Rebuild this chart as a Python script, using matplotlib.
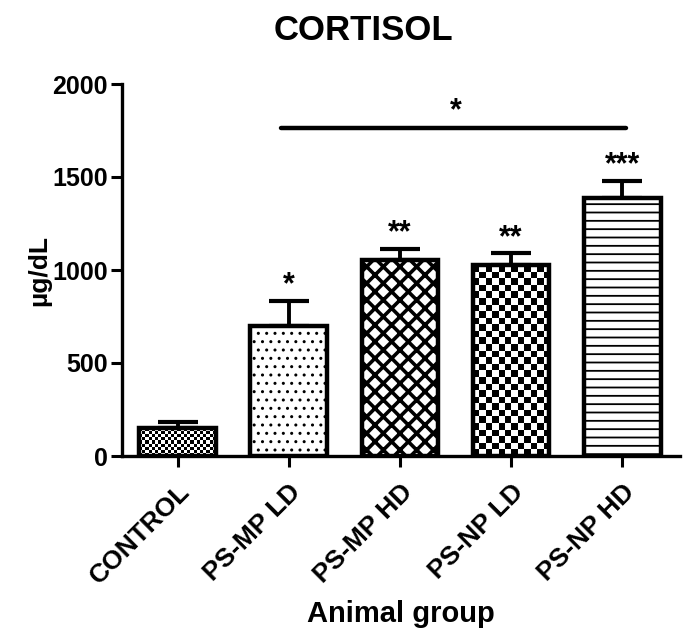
import numpy as np
import matplotlib
matplotlib.use("Agg")
import matplotlib.pyplot as plt

plt.rcParams['font.family'] = ['Liberation Sans', 'DejaVu Sans']
plt.rcParams['hatch.color'] = 'black'

categories = ["CONTROL", "PS-MP LD", "PS-MP HD", "PS-NP LD", "PS-NP HD"]
means = [150, 700, 1055, 1025, 1385]
sems = [35, 135, 60, 65, 95]
stars = ["", "*", "**", "**", "***"]
yticks = [0, 500, 1000, 1500, 2000]
sig_pair = (1, 4)
sig_value = 1765
sig_label = "*"

W, H = 685, 641
fig = plt.figure(figsize=(W / 100, H / 100), dpi=100)
ax = fig.add_axes([122 / W, 1 - 456 / H, (680 - 122) / W, (456 - 84) / H])

x = np.arange(len(categories))
width = 0.69
hatches = [None, '..', 'xx', None, '--']
hatch_lw = [1.0, 1.0, 2.6, 1.0, 1.3]
bars = ax.bar(x, means, width=width, color='white', edgecolor='black',
              linewidth=3.2, zorder=3)
for b, h, lw in zip(bars, hatches, hatch_lw):
    if h:
        b.set_hatch(h)
        if hasattr(b, 'set_hatch_linewidth'):
            b.set_hatch_linewidth(lw)
        else:
            b._hatch_linewidth = lw

ax.set_xlim(-0.5, 4.52)
ax.set_ylim(0, 2000)

# checkerboard fills
def checker(bar, cell_px, invert=False):
    x0, y0 = bar.get_x(), bar.get_y()
    x1, y1 = x0 + bar.get_width(), y0 + bar.get_height()
    p0 = ax.transData.transform((x0, y0))
    p1 = ax.transData.transform((x1, y1))
    nx = max(1, int(round((p1[0] - p0[0]) / cell_px)))
    ny = max(1, int(round((p1[1] - p0[1]) / cell_px)))
    img = (np.add.outer(np.arange(ny), np.arange(nx)) % 2).astype(float)
    if invert:
        img = 1 - img
    im = ax.imshow(img, extent=[x0, x1, y0, y1], aspect='auto', cmap='gray',
                   interpolation='nearest', zorder=2.5, vmin=0, vmax=1)
    im.set_clip_path(bar)

checker(bars[0], 3.2)
checker(bars[3], 6.5)
for b in (bars[0], bars[3]):
    b.set_facecolor('none')

ax.errorbar(x, means, yerr=[np.zeros(len(sems)), sems], fmt='none',
            ecolor='black', elinewidth=2.8, capsize=14.5, capthick=3.0, zorder=2)

for xi, m, s, st in zip(x, means, sems, stars):
    if st:
        ax.text(xi, m + s + 0, st, ha='center', va='bottom', fontsize=22,
                fontweight='bold')

ax.plot([sig_pair[0] - 0.07, sig_pair[1] + 0.03], [sig_value, sig_value],
        color='black', lw=3.2, solid_capstyle='round', clip_on=False)
ax.text((sig_pair[0] + sig_pair[1]) / 2, sig_value + 10, sig_label,
        ha='center', va='bottom', fontsize=22, fontweight='bold')

for sp in ['top', 'right']:
    ax.spines[sp].set_visible(False)
for sp in ['left', 'bottom']:
    ax.spines[sp].set_linewidth(2.4)

ax.set_yticks(yticks)
ax.set_yticklabels([str(v) for v in yticks], fontsize=18, fontweight='bold')
ax.set_xticks(x)
ax.set_xticklabels(categories, rotation=45, ha='right', rotation_mode='anchor',
                   fontsize=19, fontweight='bold')
ax.tick_params(axis='both', width=2.2, length=8, pad=2)
ax.tick_params(axis='x', pad=9)

ax.set_xlabel("Animal group", fontsize=21, fontweight='bold', labelpad=8)
ax.set_ylabel("µg/dL", fontsize=19, fontweight='bold', labelpad=1)
fig.text(363 / W, 1 - 30 / H, "CORTISOL", ha='center', va='center',
         fontsize=25, fontweight='bold')

fig.savefig("out.png", dpi=100)
